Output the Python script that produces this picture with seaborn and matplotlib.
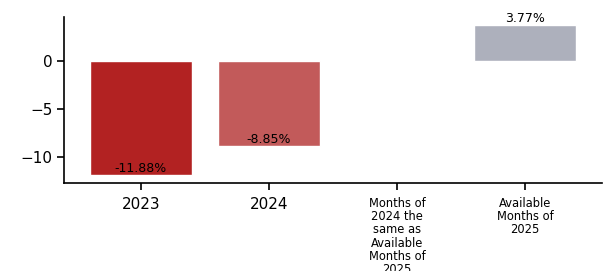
import numpy as np
import pandas as pd
import matplotlib
matplotlib.use("Agg")
import matplotlib.pyplot as plt
import seaborn as sns

# data
categories = ["2023", "2024",
              "Months of\n2024 the\nsame as\nAvailable\nMonths of\n2025",
              "Available\nMonths of\n2025"]
changes = [-11.88, -8.85, 0.0, 3.77]
bar_colors = ["#b22222", "#c25a5a", "#c8c8c8", "#adb0bc"]

df = pd.DataFrame({"period": categories, "change": changes})

sns.set_style("ticks")
plt.rcParams["font.family"] = ["DejaVu Sans"]
plt.rcParams["text.color"] = "black"
plt.rcParams["xtick.color"] = "black"
plt.rcParams["ytick.color"] = "black"
plt.rcParams["axes.edgecolor"] = "black"

fig = plt.figure(figsize=(6.05, 2.71), dpi=100)
ax = fig.add_axes([0.106, 0.325, 0.889, 0.612])

sns.barplot(data=df, x="period", y="change", hue="period", palette=bar_colors,
            legend=False, width=0.8, ax=ax, saturation=1)

for i, v in enumerate(changes):
    if v == 0:
        continue
    ax.text(i, v, f"{v:.2f}%", ha="center", va="bottom", fontsize=9, color="black")

ax.set_xlim(-0.6, 3.6)
ax.set_ylim(-12.7, 4.6)
ax.set_yticks([0, -5, -10])
ax.set_xlabel("")
ax.set_ylabel("")
ax.tick_params(axis="y", labelsize=11, length=5, width=1.2)
ax.tick_params(axis="x", length=5, width=1.2, pad=5)
labels = ax.get_xticklabels()
for i, lab in enumerate(labels):
    lab.set_fontsize(11 if i < 2 else 8.3)
    if i >= 2:
        lab.set_linespacing(1.03)
for s in ["left", "bottom"]:
    ax.spines[s].set_linewidth(1.2)
sns.despine(ax=ax)

fig.savefig("out.png", dpi=100)
